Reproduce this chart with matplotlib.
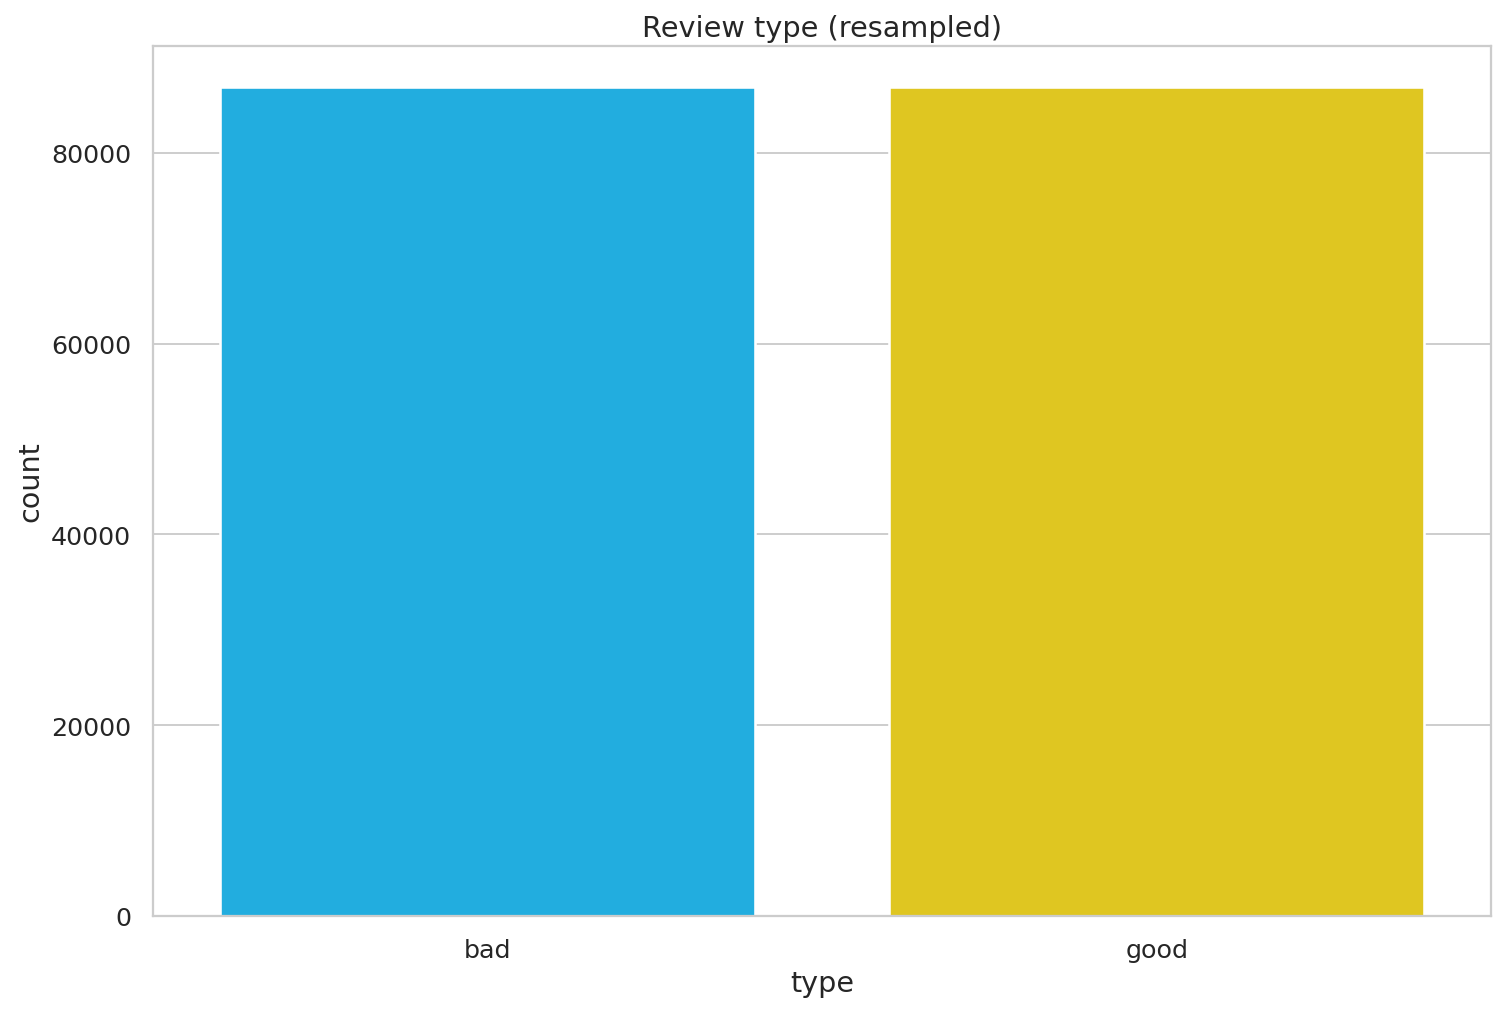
import matplotlib
matplotlib.use("Agg")
import matplotlib.pyplot as plt
import seaborn as sns

categories = ["bad", "good"]
counts = [86850, 86850]
colors = ["#22addf", "#dfc621"]

sns.set_theme(style="whitegrid", context="talk")
plt.rcParams['font.family'] = ['DejaVu Sans']
plt.rcParams['axes.linewidth'] = 1.3
plt.rcParams['grid.linewidth'] = 1.1

fig = plt.figure(figsize=(12.05, 8.104), dpi=125)
ax = fig.add_axes([0.1016, 0.0948, 0.8884, 0.8588])
ax.bar(categories, counts, color=colors, width=0.8)
ax.set_xlim(-0.5, 1.5)
ax.set_ylim(0, max(counts) * 1.05)
ax.set_yticks([0, 20000, 40000, 60000, 80000])
ax.tick_params(labelsize=14.6)
ax.xaxis.grid(False)
ax.set_axisbelow(True)
ax.set_xlabel("type", fontsize=16.5)
ax.set_ylabel("count", fontsize=16.5)
ax.set_title("Review type (resampled)", fontsize=16.6)
fig.savefig("out.png", dpi=125)
